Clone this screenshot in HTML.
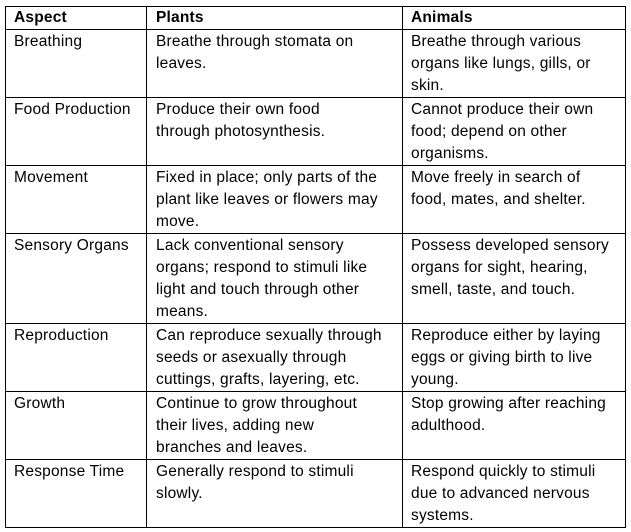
<!DOCTYPE html>
<html><head><meta charset="utf-8"><style>
html,body{margin:0;padding:0;background:#fff;width:631px;height:532px;overflow:hidden}
body{position:relative;font-family:"Liberation Sans",sans-serif;font-size:15.5px;letter-spacing:0.2px;color:#000}
.h{position:absolute;background:#000;height:1px}
.v{position:absolute;background:#000;width:1px}
.t{position:absolute;white-space:nowrap;line-height:22px}
.b{font-weight:bold}
</style></head><body>
<div class="h" style="left:5px;width:621px;top:6px"></div>
<div class="h" style="left:5px;width:621px;top:29px"></div>
<div class="h" style="left:5px;width:621px;top:97px"></div>
<div class="h" style="left:5px;width:621px;top:165px"></div>
<div class="h" style="left:5px;width:621px;top:233px"></div>
<div class="h" style="left:5px;width:621px;top:323px"></div>
<div class="h" style="left:5px;width:621px;top:391px"></div>
<div class="h" style="left:5px;width:621px;top:459px"></div>
<div class="h" style="left:5px;width:621px;top:527px"></div>
<div class="v" style="top:6px;height:522px;left:5px"></div>
<div class="v" style="top:6px;height:522px;left:146px"></div>
<div class="v" style="top:6px;height:522px;left:402px"></div>
<div class="v" style="top:6px;height:522px;left:625px"></div>

<div class="t b" style="left:14px;top:7px">Aspect</div>
<div class="t b" style="left:156px;top:7px">Plants</div>
<div class="t b" style="left:411px;top:7px">Animals</div>

<div class="t" style="left:14px;top:31px">Breathing</div>
<div class="t" style="left:156px;top:31px">Breathe through stomata on<br>leaves.</div>
<div class="t" style="left:411px;top:31px">Breathe through various<br>organs like lungs, gills, or<br>skin.</div>

<div class="t" style="left:14px;top:99px">Food Production</div>
<div class="t" style="left:156px;top:99px">Produce their own food<br>through photosynthesis.</div>
<div class="t" style="left:411px;top:99px">Cannot produce their own<br>food; depend on other<br>organisms.</div>

<div class="t" style="left:14px;top:167px">Movement</div>
<div class="t" style="left:156px;top:167px">Fixed in place; only parts of the<br>plant like leaves or flowers may<br>move.</div>
<div class="t" style="left:411px;top:167px">Move freely in search of<br>food, mates, and shelter.</div>

<div class="t" style="left:14px;top:235px">Sensory Organs</div>
<div class="t" style="left:156px;top:235px">Lack conventional sensory<br>organs; respond to stimuli like<br>light and touch through other<br>means.</div>
<div class="t" style="left:411px;top:235px">Possess developed sensory<br>organs for sight, hearing,<br>smell, taste, and touch.</div>

<div class="t" style="left:14px;top:325px">Reproduction</div>
<div class="t" style="left:156px;top:325px">Can reproduce sexually through<br>seeds or asexually through<br>cuttings, grafts, layering, etc.</div>
<div class="t" style="left:411px;top:325px">Reproduce either by laying<br>eggs or giving birth to live<br>young.</div>

<div class="t" style="left:14px;top:393px">Growth</div>
<div class="t" style="left:156px;top:393px">Continue to grow throughout<br>their lives, adding new<br>branches and leaves.</div>
<div class="t" style="left:411px;top:393px">Stop growing after reaching<br>adulthood.</div>

<div class="t" style="left:14px;top:461px">Response Time</div>
<div class="t" style="left:156px;top:461px">Generally respond to stimuli<br>slowly.</div>
<div class="t" style="left:411px;top:461px">Respond quickly to stimuli<br>due to advanced nervous<br>systems.</div>
</body></html>
